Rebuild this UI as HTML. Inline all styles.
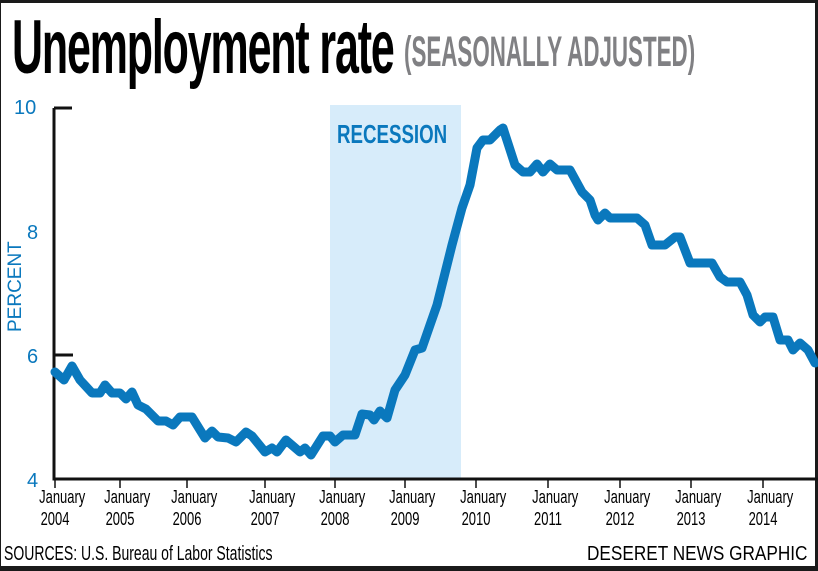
<!DOCTYPE html>
<html><head><meta charset="utf-8"><style>
html,body{margin:0;padding:0;background:#fff}
body{width:818px;height:571px;overflow:hidden;position:relative;font-family:"Liberation Sans",sans-serif}
.t{position:absolute;white-space:nowrap;transform-origin:0 0}
</style></head><body>
<div style="position:absolute;left:0;top:0;width:818px;height:3px;background:#1a1a1a"></div>
<div style="position:absolute;left:0;top:566px;width:818px;height:5px;background:#1a1a1a"></div>
<div style="position:absolute;left:0;top:0;width:1px;height:571px;background:#1a1a1a"></div>
<div style="position:absolute;left:815px;top:0;width:3px;height:571px;background:#1a1a1a"></div>
<div class="t" style="left:12px;top:4px;font-size:76px;font-weight:bold;letter-spacing:-2px;transform:scaleX(0.565)">Unemployment rate</div>
<div class="t" style="left:404px;top:28px;font-size:43px;font-weight:bold;color:#808083;transform:scaleX(0.52)">(SEASONALLY ADJUSTED)</div>
<svg width="818" height="571" style="position:absolute;left:0;top:0">
<rect x="330" y="105" width="131" height="373" fill="#d7ecfa"/>
<text x="337" y="143" font-family="Liberation Sans" font-weight="bold" font-size="26" fill="#0a78bd" transform="translate(337 0) scale(0.72 1) translate(-337 0)">RECESSION</text>
<g stroke="#111" stroke-width="3" fill="none">
<path d="M54 108 V479 H818"/>
<path d="M54 108 H72 M54 355 H73"/>
<path d="M55 479 v9 M120 479 v9 M187 479 v9 M265 479 v9 M335 479 v9 M405 479 v9 M476 479 v9 M548 479 v9 M620 479 v9 M691 479 v9 M763 479 v9" stroke-width="1.5"/>
</g>
<g fill="#0a78bd" font-family="Liberation Sans" font-size="20">
<text x="14" y="114">10</text><text x="27" y="239">8</text><text x="27" y="363">6</text><text x="27" y="487">4</text>
<text transform="translate(21 332) rotate(-90)" font-size="19">PERCENT</text>
</g>
<polyline fill="none" stroke="#0a78bd" stroke-width="9" stroke-linejoin="round" stroke-linecap="round" points="55,372 64,380 72,366 80,380 92,393 100,393 105,385 112,393 120,393 126,399 132,392 138,405 146,409 158,421 166,421 173,425 180,417 192,417 205,438 212,431 218,437 228,438 236,442 246,432 252,436 265,452 272,448 277,452 286,440 300,452 305,448 311,455 323,436 330,436 335,442 343,435 355,435 362,414 370,415 374,420 380,411 387,418 395,390 405,375 415,350 422,348 430,325 437,305 452,245 462,208 470,185 477,148 483,140 490,140 500,130 503,128 515,165 523,172 530,172 537,164 543,172 550,164 557,170 570,170 582,192 590,200 595,215 598,220 605,213 610,218 637,218 645,225 652,245 665,245 675,237 680,237 690,263 712,263 720,277 727,282 740,282 747,295 753,315 760,322 765,317 773,317 780,340 788,340 793,350 800,343 808,350 815,363"/>
</svg>
<div id="xl"></div>
<script>
var xs=[[55,2004],[120,2005],[187,2006],[265,2007],[335,2008],[405,2009],[476,2010],[548,2011],[620,2012],[691,2013],[763,2014]],h='';
xs.forEach(function(a){h+='<div class="t" style="left:'+(a[0]-22)+'px;top:486px;width:44px;text-align:center;font-size:18px;line-height:22px;transform:scaleX(0.72);transform-origin:22px 0">January<br>'+a[1]+'</div>';});
document.getElementById('xl').innerHTML=h;
</script>
<div class="t" style="left:4px;top:543px;font-size:20px;transform:scaleX(0.70)">SOURCES: U.S. Bureau of Labor Statistics</div>
<div class="t" style="left:587px;top:543px;font-size:20px;transform:scaleX(0.86)">DESERET NEWS GRAPHIC</div>
</body></html>
